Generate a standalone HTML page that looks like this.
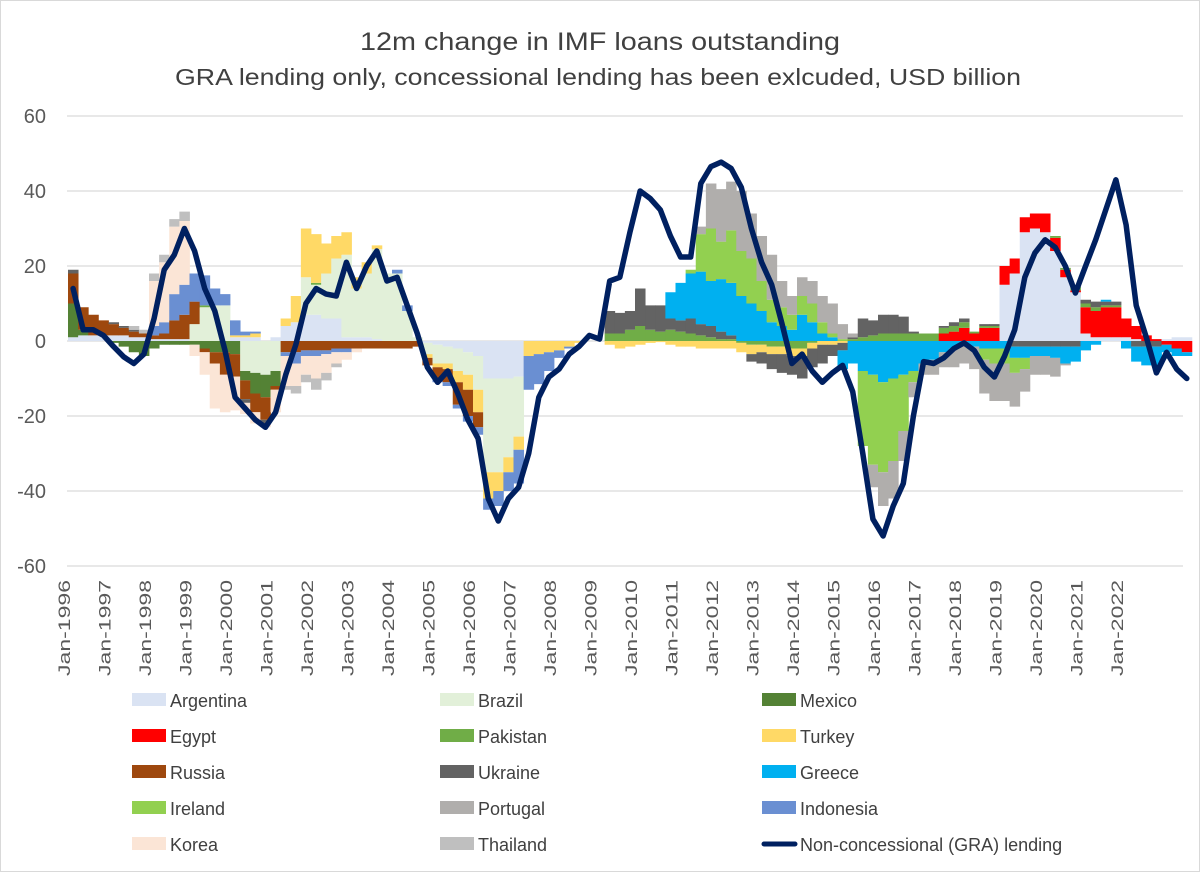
<!DOCTYPE html>
<html><head><meta charset="utf-8"><style>
body{margin:0;background:#fff}
svg{display:block;font-family:"Liberation Sans",sans-serif}
</style></head><body>
<svg id="chart" width="1200" height="872" viewBox="0 0 1200 872">
<rect x="0.5" y="0.5" width="1199" height="871" fill="#fff" stroke="#d9d9d9"/>
<text x="600" y="50" text-anchor="middle" font-size="25" fill="#404040" textLength="480" lengthAdjust="spacingAndGlyphs">12m change in IMF loans outstanding</text>
<text x="598" y="85" text-anchor="middle" font-size="23" fill="#404040" textLength="846" lengthAdjust="spacingAndGlyphs">GRA lending only, concessional lending has been exlcuded, USD billion</text>
<g id="grid"></g><g id="bars"></g><g id="line"></g><g id="xlabels"></g><g id="legend"></g>
</svg>
<script>
const yTicks=[60,40,20,0,-20,-40,-60];
const yearLabels=["Jan-1996","Jan-1997","Jan-1998","Jan-1999","Jan-2000","Jan-2001","Jan-2002","Jan-2003","Jan-2004","Jan-2005","Jan-2006","Jan-2007","Jan-2008","Jan-2009","Jan-2010","Jan-2011","Jan-2012","Jan-2013","Jan-2014","Jan-2015","Jan-2016","Jan-2017","Jan-2018","Jan-2019","Jan-2020","Jan-2021","Jan-2022"];
const seriesNames=["Argentina","Brazil","Mexico","Egypt","Pakistan","Turkey","Russia","Ukraine","Greece","Ireland","Portugal","Indonesia","Korea","Thailand"];
const seriesColors=["#dae3f3","#e2f0d9","#548235","#ff0000","#70ad47","#ffd966","#9e480e","#636363","#00b0f0","#92d050","#b0aeac","#6a8fd2","#fbe5d6","#bfbfbf"];
// quarterly values (index = quarters since Q1 1996)
const argentina={0:1,1:1.5,2:1.5,3:1.5,4:1.5,5:1.5,6:1,7:1,8:.5,9:.5,10:.5,11:.5,16:1,17:1,18:1,20:1,21:4,22:5,23:7,24:7,25:6,26:6,27:1,28:1,29:1,30:.5,35:-.5,36:-1,37:-1.5,38:-2,39:-3,40:-4,41:-10,42:-10,43:-10,44:-9.5,92:15,93:18,94:29,95:30,96:29,97:24,98:17,99:13,100:2,101:1,102:1,103:1,104:1,105:.5,108:.5,109:1,110:1};
const brazil={12:4.5,13:9,14:9.5,15:9.5,17:-8,18:-8.5,19:-9,20:-8,23:10,24:8,25:12,26:16,27:22,28:13,29:17,30:24,31:18,32:18,33:8,34:1,35:-3,36:-5,37:-4.5,38:-6,39:-6,40:-9,41:-25,42:-25,43:-21,44:-16};
const mexico={0:9,1:1.5,4:-.5,5:-1.5,6:-3,7:-4,8:-2,9:-1,10:-1,11:-1,12:-1,13:-2,14:-3,15:-3,16:-3.5,17:-2.5,18:-5.5,19:-6,20:-4};
const egypt={86:2,87:2.5,88:3.5,89:2,90:3.5,91:3.5,92:5,93:4,94:4,95:4,96:5,97:3.5,98:2,99:.5,100:7,101:7,102:8,103:8,104:5,105:3.5,106:1.5,107:.5,108:-1,109:-2,110:-3};
const pakistan={13:.5,24:.5,53:2,54:2,55:3,56:4,57:3,58:2.5,59:3,60:2.5,61:2,62:1.5,63:1,64:.5,65:.5,66:-.5,67:-1,68:-1,69:-1.5,70:-1.5,71:-2,72:-2,73:-.5,77:.5,78:1,79:1.5,80:2,81:2,82:2,83:2,84:2,85:2,86:1.5,87:1.5,88:1.5,89:.5,90:.5,91:.5,97:.5,98:.5,99:1,100:1,101:1,102:.5,103:.5};
const turkey={16:.5,17:.5,18:1,21:2,22:7,23:13,24:13,25:8,26:6,27:6,28:3,29:3,30:1,35:-1,36:-1,37:-1.5,38:-3,39:-4,40:-6,41:-7,42:-5,43:-4,44:-3.5,45:-4,46:-3.5,47:-3,48:-2.5,49:-1.5,50:-.5,53:-1,54:-2,55:-1.5,56:-1,57:-.5,58:-.3,59:-1,60:-1.5,61:-1.5,62:-2,63:-2,64:-2,65:-2,66:-2.5,67:-2.5,68:-2,69:-2,70:-2,71:-2,72:-2,73:-1.5,74:-1,75:-1,76:-.5};
const russia={0:8,1:6,2:5.5,3:4,4:3,5:2,6:1.5,7:1,8:1,9:1.5,10:5,11:6.5,12:6,13:-1,14:-3,15:-6,16:-6,17:-5,18:-5,19:-6,20:-1,21:-3,22:-3,23:-2.5,24:-2.5,25:-2.5,26:-2,27:-2,28:-2,29:-2,30:-2,31:-2,32:-2,33:-2,34:-1.5,35:-2,36:-3,37:-3.5,38:-6,39:-7,40:-4};
const ukraine={0:1,4:.5,5:.5,6:.5,17:-1,19:-1,53:6,54:5.5,55:5,56:10,57:6.5,58:7,59:3,60:3,61:4,62:3,63:3,64:2,65:1,67:-2,68:-3,69:-4,70:-5,71:-5,72:-6,73:-5,74:-5,75:-3,76:-2,77:.5,78:5,79:4,80:5,81:5,82:4.5,83:.5,86:.5,87:1,88:1,90:.5,91:.5,93:-1.5,94:-1.5,95:-1.5,96:-1.5,97:-1.5,98:-1.5,99:-1.5,100:1,101:1.5,102:1,103:1,105:-1.5,106:-1.5,107:-1.5};
const greece={59:7,60:10,61:12,62:14,63:12,64:14,65:14,66:12,67:10,68:8,69:5,70:4,71:3,72:7,73:5,74:2,75:1,76:-5,77:-6,78:-8,79:-9,80:-11,81:-10,82:-9,83:-8,84:-6,85:-5,86:-3,87:-2,88:-1,89:-1.5,90:-2,91:-2,92:-2,93:-3,94:-3,95:-2.5,96:-2.5,97:-3,98:-4.5,99:-4,100:-2.5,101:-1,102:.5,104:-2,105:-4,106:-5,107:-5,108:-2,109:-2,110:-1};
const ireland={61:1,62:10,63:14,64:10,65:14,66:12,67:12,68:8,69:6,70:5,71:4,72:5,73:5,74:3,75:1,76:.5,78:-20,79:-24,80:-24,81:-22,82:-15,83:-3,90:-3,91:-4,92:-4,93:-4,94:-3};
const portugal={62:2,63:12,64:14,65:13,66:16,67:12,68:12,69:12,70:7,71:5,72:5,73:6,74:7,75:8,76:4,77:1,79:-6,80:-9,81:-10,82:-8,83:-4,84:-3,85:-4,86:-4,87:-5,88:-5,89:-6,90:-9,91:-10,92:-10,93:-9,94:-6,95:-5,96:-5,97:-5,98:-.5};
const indonesia={8:2.5,9:3,10:7,11:8,12:7.5,13:8,14:4.5,15:3,16:4,17:1,18:.5,21:-1,22:-3,23:-1.5,24:-1.5,25:-1,26:-1,27:-1,32:1,33:1.5,36:-1,37:-1,38:-1,39:-1.5,40:-2,41:-3,42:-4,43:-5,44:-9,45:-9,46:-8,47:-5,48:-2,49:-.5};
const korea={8:12,9:16,10:18,11:17,12:-3,13:-6,14:-12,15:-10,16:-9,17:-3,18:-3,19:-1,20:-6,21:-8,22:-6,23:-5,24:-6,25:-5,26:-3,27:-2,28:-1};
const thailand={6:1,7:1,8:2,9:2,10:2,11:2.5,21:-1,22:-2,23:-2,24:-3,25:-2,26:-1};
const graLending=[14,3,3,1.5,-1.5,-4.2,-6,-3.5,6,19,23,30,24,14,8,-2.4,-15,-18,-21,-23,-19,-9,-1,10,14,12.5,12,21,14,20,24,16,17,9.5,2,-7,-11,-8,-14,-21,-26,-42,-48,-42,-39,-30,-15,-9.6,-7.5,-3.5,-1.4,1.5,.5,16,17,29,40,38,35,28,22.4,22.4,42,46.5,47.7,46,41,30,21,15,4.8,-6,-3.5,-8,-11,-8.5,-6.5,-13.5,-30,-47.5,-52,-44,-38,-20,-5.5,-6,-4.5,-2,-.5,-2.5,-7,-9.6,-4,3,17,23.5,27,25,20,12.8,20,27,35,43,31,9.5,1,-8.5,-3,-7.5,-10];

const series=[argentina,brazil,mexico,egypt,pakistan,turkey,russia,ukraine,greece,ireland,portugal,indonesia,korea,thailand];
const NS="http://www.w3.org/2000/svg";
const X0=68,QW=10.125,YZ=341,PX=3.75;
function xq(q){return X0+q*QW;}
function yv(v){return YZ-v*PX;}
function mk(tag,attrs,parent){const e=document.createElementNS(NS,tag);for(const k in attrs)e.setAttribute(k,attrs[k]);parent.appendChild(e);return e;}
const grid=document.getElementById('grid');
yTicks.forEach(t=>{
  const l=mk('line',{x1:67,x2:1183,y1:yv(t),y2:yv(t),stroke:'#d9d9d9','stroke-width':1.3},grid);
  
  
  const tx=mk('text',{x:46,y:yv(t)+7,'text-anchor':'end','font-size':20,fill:'#595959'},grid);
  tx.textContent=t;
  
  
});
const bars=document.getElementById('bars');
const nQ=graLending.length;
for(let q=0;q<nQ;q++){
  let pos=0,neg=0;
  series.forEach((s,i)=>{
    const v=s[q]||0; if(!v)return;
    let y0,y1;
    if(v>0){y0=pos;pos+=v;y1=pos;}else{y0=neg;neg+=v;y1=neg;}
    const r=mk('rect',{x:xq(q),width:QW+0.4,y:Math.min(yv(y0),yv(y1)),height:Math.abs(yv(y1)-yv(y0)),fill:seriesColors[i]},bars);
    
    
  });
}
const lineG=document.getElementById('line');
const pts=graLending.map((v,q)=>(xq(q)+QW/2).toFixed(1)+','+yv(v).toFixed(1)).join(' ');
const pl=mk('polyline',{points:pts,fill:'none',stroke:'#002060','stroke-width':5.5,'stroke-linejoin':'round','stroke-linecap':'round'},lineG);


const xl=document.getElementById('xlabels');
yearLabels.forEach((lab,i)=>{
  const x=xq(i*4)+2;
  const t=mk('text',{x:0,y:0,transform:`translate(${x},580) rotate(-90)`,'text-anchor':'end','font-size':17,fill:'#595959',textLength:96,lengthAdjust:'spacingAndGlyphs'},xl);
  t.textContent=lab;
  
  
});
const lg=document.getElementById('legend');
const colX=[132,440,762],rowY=[700,736,772,808,844];
const legendItems=seriesNames.map((n,i)=>({n,c:seriesColors[i]}));
legendItems.push({n:"Non-concessional (GRA) lending",line:true});
legendItems.forEach((it,i)=>{
  const cx=colX[i%3],cy=rowY[Math.floor(i/3)];
  const g=mk('g',{},lg);
  
  
  if(it.line){mk('line',{x1:cx+2,x2:cx+33,y1:cy,y2:cy,stroke:'#002060','stroke-width':5,'stroke-linecap':'round'},g);}
  else{mk('rect',{x:cx,y:cy-7,width:34,height:13,fill:it.c},g);}
  const t=mk('text',{x:cx+38,y:cy+7,'font-size':18,fill:'#404040'},g);
  t.textContent=it.n;
});
</script>
</body></html>
